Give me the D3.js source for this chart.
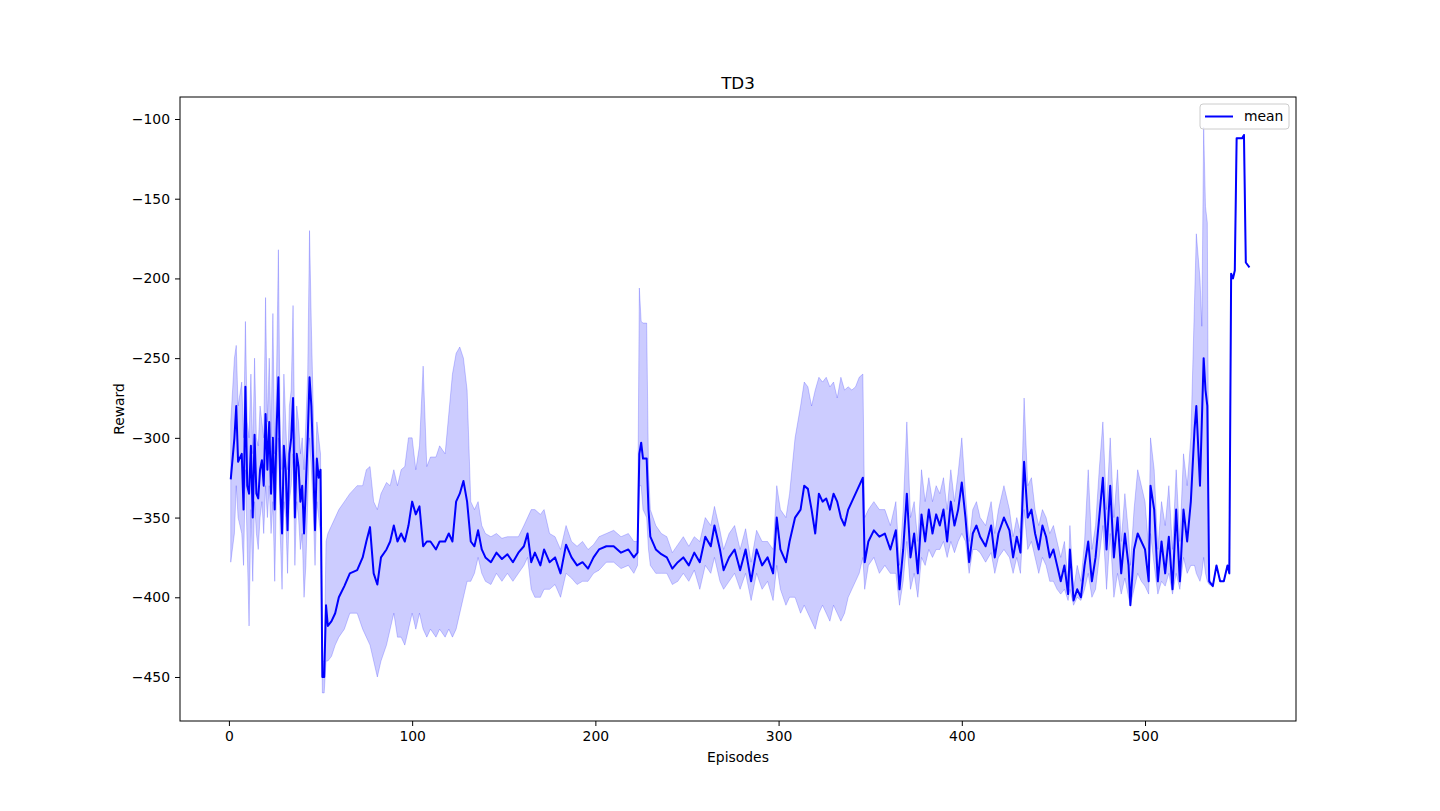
<!DOCTYPE html>
<html lang="en">
<head>
<meta charset="UTF-8">
<title>TD3</title>
<script src="https://d3js.org/d3.v7.min.js"></script>
<style>
  body { margin: 0; background: #fff; }
  text { font-family: "DejaVu Sans", sans-serif; }
</style>
</head>
<body>
<svg width="1440" height="811"></svg>
<script>
// data
const episodes = [1,3,4,5,7,8,9,10,11,12,13,14,15,16,17,18,19,20,21,22,23,24,25,26,27,28,29,30,31,32,33,34,35,36,37,38,39,40,41,42,43,44,45,46,47,48,49,50,51,52,53,54,56,58,60,63,66,70,73,75,77,79,81,83,86,88,90,92,94,96,98,100,102,104,106,108,110,113,115,118,120,122,124,126,128,130,132,134,136,138,140,143,146,149,152,155,158,161,163,165,167,170,172,175,178,181,184,187,190,193,196,199,202,206,210,214,218,221,223,224,225,226,228,229,230,233,236,239,242,245,248,251,254,257,260,263,265,268,270,273,276,279,282,285,288,291,294,297,299,301,304,306,309,312,314,316,318,320,322,324,326,328,330,332,334,336,338,340,342,344,346,347,349,352,355,358,361,364,366,368,370,372,374,376,378,380,382,384,386,388,390,392,394,396,398,400,402,404,406,408,410,413,416,418,420,423,426,428,430,432,434,436,438,440,442,444,446,448,450,452,454,456,458,459,461,463,465,467,469,471,473,475,477,479,481,483,485,487,489,491,492,494,496,498,500,502,503,505,507,509,511,513,515,517,519,521,523,525,527,528,530,531,532,533,534,535,537,539,541,543,545,546,547,548,549,550,553,554,555,557];
const meanReward = [-326,-300,-280,-315,-310,-345,-268,-330,-335,-305,-350,-298,-335,-338,-320,-314,-330,-285,-320,-290,-335,-300,-345,-295,-262,-330,-360,-305,-320,-358,-310,-300,-275,-350,-310,-318,-340,-330,-360,-330,-300,-262,-280,-315,-358,-313,-325,-320,-450,-450,-405,-418,-415,-410,-400,-393,-385,-383,-375,-365,-356,-385,-392,-375,-370,-365,-355,-365,-360,-365,-355,-340,-348,-343,-368,-365,-365,-370,-365,-365,-360,-365,-340,-335,-327,-340,-365,-368,-358,-370,-375,-378,-372,-376,-373,-378,-372,-368,-360,-378,-372,-380,-370,-378,-375,-385,-367,-375,-380,-378,-382,-375,-370,-368,-368,-372,-370,-375,-372,-310,-303,-313,-313,-345,-362,-370,-373,-375,-382,-378,-375,-380,-372,-378,-362,-368,-355,-370,-383,-375,-370,-383,-370,-390,-370,-380,-375,-385,-350,-370,-378,-365,-350,-345,-330,-332,-345,-360,-335,-340,-338,-345,-335,-340,-350,-355,-345,-340,-335,-330,-325,-378,-365,-358,-362,-360,-370,-358,-395,-370,-335,-375,-360,-385,-348,-365,-345,-360,-348,-355,-345,-365,-340,-355,-345,-328,-350,-378,-360,-355,-362,-368,-355,-375,-360,-350,-358,-375,-362,-372,-315,-350,-345,-360,-370,-355,-362,-375,-370,-380,-390,-380,-398,-370,-402,-395,-400,-380,-365,-390,-375,-350,-325,-370,-330,-375,-350,-385,-360,-380,-405,-370,-360,-365,-370,-390,-330,-345,-390,-365,-385,-362,-395,-345,-390,-345,-365,-340,-295,-280,-330,-290,-250,-270,-280,-390,-393,-380,-390,-390,-380,-385,-197,-200,-195,-112,-112,-110,-190,-193];
const lowerReward = [-378,-360,-330,-350,-360,-380,-320,-370,-418,-345,-390,-340,-360,-370,-350,-340,-360,-330,-350,-330,-360,-340,-390,-330,-300,-360,-395,-340,-350,-385,-340,-330,-310,-380,-340,-350,-370,-360,-400,-380,-340,-300,-320,-345,-380,-340,-350,-360,-460,-460,-440,-440,-437,-430,-425,-420,-410,-410,-420,-425,-430,-440,-450,-440,-430,-420,-410,-425,-425,-430,-420,-410,-420,-410,-420,-425,-420,-425,-420,-425,-420,-425,-420,-410,-400,-390,-390,-385,-375,-385,-390,-392,-385,-390,-385,-390,-385,-380,-375,-395,-400,-400,-395,-395,-392,-400,-385,-388,-392,-390,-390,-385,-383,-378,-378,-382,-380,-385,-380,-330,-330,-345,-350,-370,-380,-385,-385,-385,-392,-390,-385,-390,-383,-395,-380,-385,-375,-390,-395,-390,-385,-395,-385,-402,-385,-395,-390,-402,-380,-395,-405,-400,-400,-410,-405,-410,-415,-420,-410,-405,-410,-415,-405,-410,-415,-410,-400,-395,-390,-385,-375,-395,-380,-375,-385,-380,-385,-385,-405,-390,-365,-395,-385,-400,-375,-380,-370,-375,-370,-370,-365,-375,-365,-372,-365,-360,-365,-385,-370,-370,-372,-378,-372,-385,-375,-370,-375,-385,-375,-385,-345,-370,-365,-375,-385,-375,-380,-390,-390,-395,-398,-395,-402,-395,-405,-400,-402,-395,-385,-400,-395,-375,-355,-395,-360,-400,-385,-398,-388,-400,-405,-395,-385,-390,-393,-398,-360,-380,-398,-390,-393,-385,-398,-385,-395,-375,-385,-380,-380,-385,-390,-385,-375,-385,-390,-392,-393,-380,-390,-390,-380,-385,-197,-200,-195,-112,-112,-110,-190,-193];
const upperReward = [-290,-250,-242,-280,-265,-300,-227,-290,-300,-260,-310,-250,-300,-305,-280,-290,-300,-212,-290,-250,-300,-222,-310,-260,-182,-300,-320,-260,-290,-320,-280,-270,-217,-310,-280,-290,-310,-300,-320,-290,-260,-170,-230,-280,-330,-290,-300,-310,-440,-440,-365,-360,-355,-350,-345,-340,-335,-330,-330,-320,-318,-340,-345,-335,-328,-330,-320,-330,-320,-318,-300,-300,-320,-305,-255,-318,-312,-312,-305,-310,-285,-260,-247,-243,-250,-270,-340,-345,-340,-355,-360,-362,-360,-363,-362,-362,-362,-355,-350,-345,-345,-348,-345,-360,-362,-370,-355,-365,-368,-365,-370,-367,-362,-360,-358,-362,-360,-365,-365,-206,-227,-228,-228,-320,-345,-355,-360,-362,-372,-367,-362,-368,-362,-365,-350,-355,-343,-358,-370,-360,-355,-370,-357,-378,-358,-365,-365,-370,-330,-345,-350,-335,-300,-280,-265,-268,-280,-270,-262,-265,-262,-268,-265,-275,-262,-270,-268,-270,-268,-262,-260,-350,-345,-340,-345,-345,-355,-340,-380,-345,-290,-350,-340,-365,-320,-340,-325,-340,-330,-335,-325,-345,-320,-340,-322,-300,-335,-365,-345,-340,-350,-355,-340,-360,-345,-330,-345,-362,-350,-360,-275,-330,-325,-345,-355,-345,-350,-360,-355,-365,-375,-365,-390,-355,-395,-380,-390,-365,-320,-370,-355,-320,-290,-345,-300,-350,-320,-365,-335,-360,-380,-345,-320,-330,-340,-370,-300,-320,-370,-340,-355,-330,-370,-320,-365,-310,-330,-300,-215,-172,-200,-230,-105,-155,-165,-388,-393,-380,-390,-390,-380,-385,-197,-200,-195,-112,-112,-110,-190,-193];
const xTicks = [0, 100, 200, 300, 400, 500];
const yTicks = [-450, -400, -350, -300, -250, -200, -150, -100];

const n = Math.min(episodes.length, meanReward.length, lowerReward.length, upperReward.length);
const rows = episodes.slice(0, n).map((e, i) => ({ e, m: meanReward[i], lo: lowerReward[i], hi: upperReward[i] }));

const svg = d3.select("svg");
const plotL = 180, plotR = 1296, plotT = 97, plotB = 721;

const x = d3.scaleLinear().domain([-26.7, 582.4]).range([plotL, plotR]);
const y = d3.scaleLinear().domain([-477.6, -86.2]).range([plotB, plotT]);

// std band
svg.append("path")
    .datum(rows)
    .attr("d", d3.area().x(d => x(d.e)).y0(d => y(d.lo)).y1(d => y(d.hi)))
    .attr("fill", "rgba(0,0,255,0.2)")
    .attr("stroke", "rgba(0,0,255,0.2)")
    .attr("stroke-width", 1);

// mean line
svg.append("path")
    .datum(rows)
    .attr("d", d3.line().x(d => x(d.e)).y(d => y(d.m)))
    .attr("fill", "none")
    .attr("stroke", "#0000ff")
    .attr("stroke-width", 2)
    .attr("stroke-linejoin", "round");

// axes
const xAxis = svg.append("g")
    .attr("transform", `translate(0,${plotB})`)
    .call(d3.axisBottom(x).tickValues(xTicks).tickSize(5).tickPadding(5).tickFormat(d3.format("d")));
const yAxis = svg.append("g")
    .attr("transform", `translate(${plotL},0)`)
    .call(d3.axisLeft(y).tickValues(yTicks).tickSize(5).tickPadding(5).tickFormat(d => "\u2212" + Math.abs(d)));
[xAxis, yAxis].forEach(a => {
    a.select(".domain").remove();
    a.selectAll("text").attr("font-size", 13.9).attr("fill", "#000").style("font-family", "DejaVu Sans");
    a.selectAll("line").attr("stroke", "#000");
});

svg.append("rect")
    .attr("x", plotL).attr("y", plotT)
    .attr("width", plotR - plotL).attr("height", plotB - plotT)
    .attr("fill", "none").attr("stroke", "#000").attr("stroke-width", 1);

svg.append("text").attr("x", (plotL + plotR) / 2).attr("y", plotT - 8)
    .attr("text-anchor", "middle").attr("font-size", 16.7).text("TD3");
svg.append("text").attr("x", (plotL + plotR) / 2).attr("y", 762)
    .attr("text-anchor", "middle").attr("font-size", 13.9).text("Episodes");
svg.append("text").attr("transform", `translate(124,${(plotT + plotB) / 2}) rotate(-90)`)
    .attr("text-anchor", "middle").attr("font-size", 13.9).text("Reward");

// legend
const lg = svg.append("g").attr("transform", "translate(1200,104)");
lg.append("rect").attr("width", 89).attr("height", 25).attr("rx", 3)
    .attr("fill", "rgba(255,255,255,0.8)").attr("stroke", "#ccc");
lg.append("line").attr("x1", 5).attr("x2", 33).attr("y1", 12.5).attr("y2", 12.5)
    .attr("stroke", "#0000ff").attr("stroke-width", 2);
lg.append("text").attr("x", 44).attr("y", 17).attr("font-size", 13.9).text("mean");
</script>
</body>
</html>
